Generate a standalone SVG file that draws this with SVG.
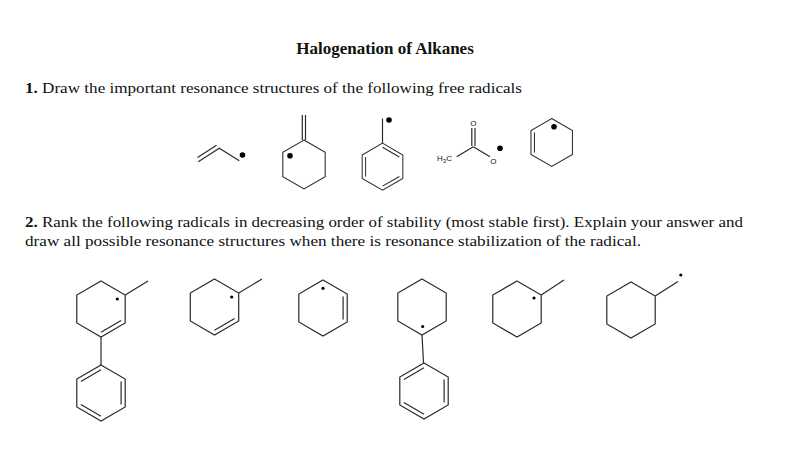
<svg xmlns="http://www.w3.org/2000/svg" width="785" height="451" viewBox="0 0 785 451">
<style>
.b{stroke:#2a2a2a;stroke-width:1.2;fill:none;vector-effect:non-scaling-stroke}
.d{fill:#000}
.t{font-family:"Liberation Serif",serif;fill:#111}
.a{font-family:"Liberation Sans",Arial,sans-serif;font-size:8px;fill:#111}
</style>
<defs>
<polygon id="hex" points="0,-28 24.2,-14 24.2,14 0,28 -24.2,14 -24.2,-14"/>
<line id="i01" x1="0" y1="-23.2" x2="20.1" y2="-11.6"/>
<line id="i12" x1="20.1" y1="-11.6" x2="20.1" y2="11.6"/>
<line id="i23" x1="20.1" y1="11.6" x2="0" y2="23.2"/>
<line id="i34" x1="0" y1="23.2" x2="-20.1" y2="11.6"/>
<line id="i45" x1="-20.1" y1="11.6" x2="-20.1" y2="-11.6"/>
<line id="i50" x1="-20.1" y1="-11.6" x2="0" y2="-23.2"/>
</defs>
<rect width="785" height="451" fill="#fff"/>
<text class="t" x="385" y="54" font-size="17" font-weight="bold" text-anchor="middle">Halogenation of Alkanes</text>
<text class="t" x="25" y="93" font-size="15" textLength="497" lengthAdjust="spacingAndGlyphs"><tspan font-weight="bold">1.</tspan> Draw the important resonance structures of the following free radicals</text>
<text class="t" x="25" y="227" font-size="15" textLength="718" lengthAdjust="spacingAndGlyphs"><tspan font-weight="bold">2.</tspan> Rank the following radicals in decreasing order of stability (most stable first). Explain your answer and</text>
<text class="t" x="25" y="246" font-size="15" textLength="616" lengthAdjust="spacingAndGlyphs">draw all possible resonance structures when there is resonance stabilization of the radical.</text>

<g id="allyl" class="b">
<polyline points="198.3,161.7 219.3,148.3 239.3,160.7"/>
<line x1="197.5" y1="157.5" x2="216.5" y2="145.3"/>
<circle class="d" cx="242.5" cy="155" r="2.8" stroke="none"/>
</g>
<g id="methylenecyclohexyl">
<g class="b" transform="translate(304,164.5) scale(0.875)"><use href="#hex"/></g>
<line class="b" x1="302.3" y1="140" x2="302.3" y2="115"/>
<line class="b" x1="305.5" y1="140" x2="305.5" y2="115"/>
<circle class="d" cx="290" cy="155.7" r="2.8"/>
</g>
<g id="benzyl">
<g class="b" transform="translate(382.5,166.7) scale(0.84)"><use href="#hex"/><use href="#i01"/><use href="#i23"/><use href="#i45"/></g>
<line class="b" x1="382.5" y1="143.2" x2="382.5" y2="118.5"/>
<circle class="d" cx="389" cy="120" r="2.8"/>
</g>
<g id="acetoxyl">
<text class="a" x="437" y="161">H<tspan font-size="6" dy="2">3</tspan><tspan dy="-2">C</tspan></text>
<line class="b" x1="456.7" y1="156.7" x2="473.3" y2="146.7"/>
<line class="b" x1="473.3" y1="146.7" x2="490" y2="156.7"/>
<line class="b" x1="471.8" y1="146" x2="471.8" y2="128"/>
<line class="b" x1="475" y1="146" x2="475" y2="128"/>
<text class="a" x="473.3" y="126" text-anchor="middle">O</text>
<text class="a" x="493.3" y="164" text-anchor="middle">O</text>
<circle class="d" cx="500" cy="148.3" r="2.8"/>
</g>
<g id="cyclohexenyl">
<g class="b" transform="translate(551.7,142.5) scale(0.857)"><use href="#hex"/><use href="#i45"/></g>
<circle class="d" cx="554" cy="126.7" r="2.8"/>
</g>

<g id="r1">
<g class="b" transform="translate(101,309)"><use href="#hex"/><use href="#i23"/></g>
<line class="b" x1="125.2" y1="295" x2="148" y2="281"/>
<line class="b" x1="101" y1="337" x2="101" y2="365"/>
<g class="b" transform="translate(101,393)"><use href="#hex"/><use href="#i50"/><use href="#i12"/><use href="#i34"/></g>
<circle class="d" cx="117.3" cy="299" r="1.6"/>
</g>
<g id="r2">
<g class="b" transform="translate(214.5,307)"><use href="#hex"/><use href="#i23"/></g>
<line class="b" x1="238.7" y1="293" x2="262" y2="279"/>
<circle class="d" cx="231.7" cy="297" r="1.6"/>
</g>
<g id="r3">
<g class="b" transform="translate(323,308)"><use href="#hex"/><use href="#i12"/></g>
<circle class="d" cx="323" cy="288.3" r="1.6"/>
</g>
<g id="r4">
<g class="b" transform="translate(422,307)"><use href="#hex"/></g>
<line class="b" x1="422" y1="335" x2="423.5" y2="363"/>
<g class="b" transform="translate(424,391)"><use href="#hex"/><use href="#i50"/><use href="#i12"/><use href="#i34"/></g>
<circle class="d" cx="422.7" cy="326.5" r="1.6"/>
</g>
<g id="r5">
<g class="b" transform="translate(517,309)"><use href="#hex"/></g>
<line class="b" x1="541.2" y1="295" x2="564" y2="280"/>
<circle class="d" cx="534" cy="298" r="1.6"/>
</g>
<g id="r6">
<g class="b" transform="translate(631,310)"><use href="#hex"/></g>
<line class="b" x1="655.2" y1="296" x2="678" y2="281.5"/>
<circle class="d" cx="680.8" cy="275" r="1.6"/>
</g>
</svg>
